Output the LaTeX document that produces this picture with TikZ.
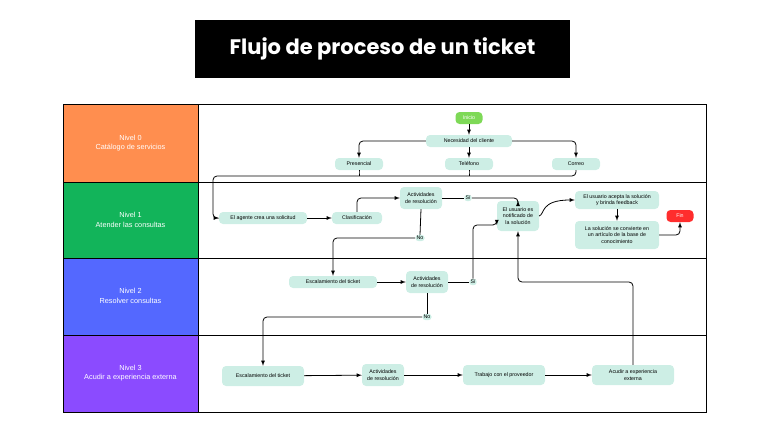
\documentclass[tikz,border=0pt]{standalone}
\usepackage{fontspec}
\setmainfont{Liberation Sans}
\newfontfamily\ttlfont{Poppins}
\begin{document}
\begin{tikzpicture}[x=1pt,y=-1pt,
 n/.style={fill=nd,rounded corners=4pt,inner sep=1.5pt,align=center,font=\fontsize{5.3}{6.3}\selectfont,minimum height=12pt},
 lb/.style={fill=nd,rounded corners=3pt,inner sep=1.2pt,font=\fontsize{5.3}{6.3}\selectfont},
 a/.style={-latex,line width=0.8pt,rounded corners=4pt},
 l/.style={line width=0.8pt,rounded corners=4pt},
 lane/.style={text=white,align=center,font=\fontsize{7.3}{9.5}\selectfont}]
\definecolor{nd}{HTML}{CDEEE5}
\definecolor{c0}{HTML}{FF8E4F}
\definecolor{c1}{HTML}{12B45A}
\definecolor{c2}{HTML}{5468FF}
\definecolor{c3}{HTML}{8B4BFF}
\definecolor{gi}{HTML}{7ED957}
\definecolor{rf}{HTML}{FF2D2D}
\useasboundingbox (0,0) rectangle (768,431);
\node[fill=black,minimum width=375pt,minimum height=58pt,text=white,font=\ttlfont\bfseries\fontsize{21}{24}\selectfont] (title) at (382.5,49) {Flujo de proceso de un ticket};
\fill[c0] (63,104) rectangle (198,182);
\fill[c1] (63,182) rectangle (198,258);
\fill[c2] (63,258) rectangle (198,335);
\fill[c3] (63,335) rectangle (198,412);
\draw[line width=0.8pt] (63,104) rectangle (706,412);
\foreach \y in {182,258,335} \draw[line width=0.8pt] (63,\y) -- (706,\y);
\draw[line width=0.8pt] (198,104) -- (198,412);
\node[lane] (l0) at (130.5,143) {Nivel 0\\Catálogo de servicios};
\node[lane] (l1) at (130.5,220) {Nivel 1\\Atender las consultas};
\node[lane] (l2) at (130.5,296) {Nivel 2\\Resolver consultas};
\node[lane] (l3) at (130.5,373) {Nivel 3\\Acudir a experiencia externa};
\node[n,fill=gi,text=white,minimum width=27pt] (ini) at (469,118) {Inicio};
\node[n,minimum width=86pt] (nec) at (469,141) {Necesidad del cliente};
\node[n,minimum width=48pt] (pre) at (359,164) {Presencial};
\node[n,minimum width=48pt] (tel) at (469,164) {Teléfono};
\node[n,minimum width=48pt] (cor) at (576,164) {Correo};
\node[n,minimum width=88pt] (age) at (263,218) {El agente crea una solicitud};
\node[n,minimum width=50pt] (cla) at (357,218) {Clasificación};
\node[n,minimum width=42pt,minimum height=22pt] (act1) at (421,198) {Actividades\\de resolución};
\node[lb] (si1) at (468,198) {Sí};
\node[lb] (no1) at (420,238) {No};
\node[n,minimum width=42pt,minimum height=30pt] (usu) at (518,216) {El usuario es\\notificado de\\la solución};
\node[n,minimum width=84pt,minimum height=18pt] (acep) at (617,200) {El usuario acepta la solución\\y brinda feedback};
\node[n,minimum width=84pt,minimum height=28pt] (sol) at (617,235) {La solución se convierte en\\un artículo de la base de\\conocimiento};
\node[n,fill=rf,text=white,minimum width=27pt] (fin) at (680,216) {Fin};
\node[n,minimum width=88pt] (esc2) at (333,282) {Escalamiento del ticket};
\node[n,minimum width=42pt,minimum height=22pt] (act2) at (427,282) {Actividades\\de resolución};
\node[lb] (si2) at (473,282) {Sí};
\node[lb] (no2) at (427,317) {No};
\node[n,minimum width=82pt,minimum height=20pt] (esc3) at (263,376) {Escalamiento del ticket};
\node[n,minimum width=42pt,minimum height=22pt] (act3) at (383,375) {Actividades\\de resolución};
\node[n,minimum width=82pt,minimum height=20pt] (tra) at (504,375) {Trabajo con el proveedor};
\node[n,minimum width=82pt,minimum height=20pt] (acu) at (633,375) {Acudir a experiencia\\externa};
\draw[a] (ini) -- (nec);
\draw[a] (nec.west) -| (pre.north);
\draw[a] (nec) -- (tel);
\draw[a] (nec.east) -| (cor.north);
\draw[l] (pre.south) |- (359,176);
\draw[l] (tel.south) |- (469,176);
\draw[a] (cor.south) |- (213,176) |- (age.west);
\draw[a] (age) -- (cla);
\draw[a] (cla.north) |- (act1.west);
\draw[l] (act1.east) -- (si1);
\draw[a] (si1.east) -| (usu.north);
\draw[l] (act1.south) -- (no1.north);
\draw[a] (no1.west) -| (esc2.north);
\draw[a] (usu.east) .. controls (545,214) and (540,200) .. (acep.west);
\draw[a] (acep) -- (sol);
\draw[a] (sol.east) -| (fin.south);
\draw[a] (esc2) -- (act2);
\draw[l] (act2) -- (si2);
\draw[a] (si2.north) |- (usu.west |- 0,225) -- (usu.west |- 0,225);
\draw[l] (act2.south) -- (no2.north);
\draw[a] (no2.west) -| (esc3.north);
\draw[a] (esc3) -- (act3);
\draw[a] (act3) -- (tra);
\draw[a] (tra) -- (acu);
\draw[a] (acu.north) |- (518,282) -- (usu.south);
\end{tikzpicture}
\end{document}
